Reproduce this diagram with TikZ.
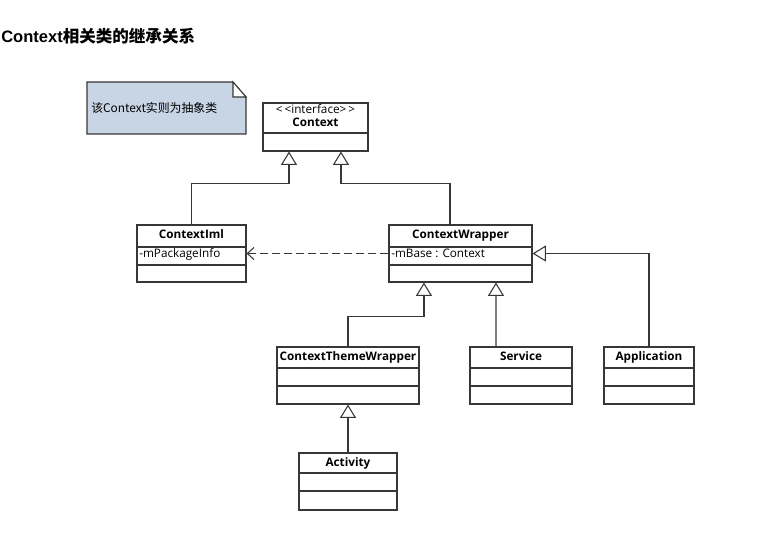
\documentclass[tikz,border=0pt]{standalone}
\usepackage{fontspec}
\setmainfont{Open Sans}
\newfontfamily\cjk{Noto Sans CJK SC}
\newfontfamily\titlefont{Liberation Sans}
\usetikzlibrary{arrows.meta}
\definecolor{notefill}{RGB}{200,213,229}
\definecolor{umlline}{RGB}{55,55,55}

\begin{document}
\begin{tikzpicture}[x=0.75pt,y=-0.75pt,
		classbox/.style={draw=umlline, line width=0.8pt, inner sep=0pt, minimum height=42.75pt},
		classname/.style={font=\fontsize{8.8}{10}\selectfont\bfseries, inner sep=0pt, text height=1.55ex, text depth=0.45ex},
		attr/.style={font=\fontsize{8.8}{10}\selectfont, inner sep=0pt, anchor=west, text height=1.55ex, text depth=0.45ex},
		inherit/.style={draw=umlline, line width=0.8pt, -{Triangle[open, length=10pt, width=12pt, fill=white]}},
		usage/.style={draw=umlline, line width=0.8pt, dash pattern=on 6pt off 3pt, -{Straight Barb[length=5pt, width=9pt]}}]
				\useasboundingbox (0,0) rectangle (780,559);
				
				\node[anchor=west, inner sep=0pt] (title) at (1,36) {\fontsize{12.4}{14}\selectfont\titlefont\bfseries Context{\cjk\bfseries 相关类的继承关系}};
				
				% note
				\draw[umlline, line width=0.8pt, fill=notefill] (87,82) -- (233,82) -- (246,97) -- (246,134) -- (87,134) -- cycle;
				\draw[umlline, line width=0.8pt, fill=white] (233,82) -- (233,97) -- (246,97) -- cycle;
				\node[anchor=west, inner sep=0pt] (note) at (91,108) {\fontsize{8.9}{10}\selectfont\cjk 该Context实则为抽象类};
				
				% interface
				\node[classbox, minimum width=78.75pt, minimum height=36pt] (ctx) at (315.5,127) {};
				\draw[umlline, line width=0.8pt] (263,133) -- (368,133);
				\node[attr, anchor=center] (ctx-st) at (315.5,110) {{<}\,{<}interface{>}\,{>}};
				\node[classname] (ctx-name) at (315.5,123) {Context};
				
				% classes
				\node[classbox, minimum width=81.75pt] (iml) at (191.5,253.5) {};
				\draw[umlline, line width=0.8pt] (137,247) -- (246,247) (137,265) -- (246,265);
				\node[classname] (iml-name) at (191.5,235) {ContextIml};
				\node[attr] (iml-attr) at (139,254) {-mPackageInfo};
				
				\node[classbox, minimum width=107.25pt] (wrap) at (460.5,253.5) {};
				\draw[umlline, line width=0.8pt] (389,247) -- (532,247) (389,265) -- (532,265);
				\node[classname] (wrap-name) at (460.5,235) {ContextWrapper};
				\node[attr] (wrap-attr) at (391,254) {-mBase : Context};
				
				\node[classbox, minimum width=106.5pt] (ctw) at (348,375.5) {};
				\draw[umlline, line width=0.8pt] (277,368) -- (419,368) (277,386) -- (419,386);
				\node[classname] (ctw-name) at (348,357) {ContextThemeWrapper};
				
				\node[classbox, minimum width=76.5pt] (svc) at (521,375.5) {};
				\draw[umlline, line width=0.8pt] (470,368) -- (572,368) (470,386) -- (572,386);
				\node[classname] (svc-name) at (521,357) {Service};
				
				\node[classbox, minimum width=67.5pt] (app) at (649,375.5) {};
				\draw[umlline, line width=0.8pt] (604,368) -- (694,368) (604,386) -- (694,386);
				\node[classname] (app-name) at (649,357) {Application};
				
				\node[classbox, minimum width=73.5pt] (act) at (348,481.5) {};
				\draw[umlline, line width=0.8pt] (299,473) -- (397,473) (299,491) -- (397,491);
				\node[classname] (act-name) at (348,463) {Activity};
				
				% connectors
				\draw[inherit] (iml.north) -- ++(0,-41) -| ([xshift=-19.9pt]ctx.south);
				\draw[inherit] ([xshift=-7.9pt]wrap.north) -- ++(0,-41) -| ([xshift=19.1pt]ctx.south);
				\draw[usage] (wrap.west) -- (iml.east);
				\draw[inherit] (ctw.north) -- ++(0,-30) -| ([xshift=-27.4pt]wrap.south);
				\draw[inherit] ([xshift=-18.75pt]svc.north) -- ([xshift=26.6pt]wrap.south);
				\draw[inherit] (app.north) |- (wrap.east);
				\draw[inherit] (act.north) -- (ctw.south);
			\end{tikzpicture}
\end{document}
